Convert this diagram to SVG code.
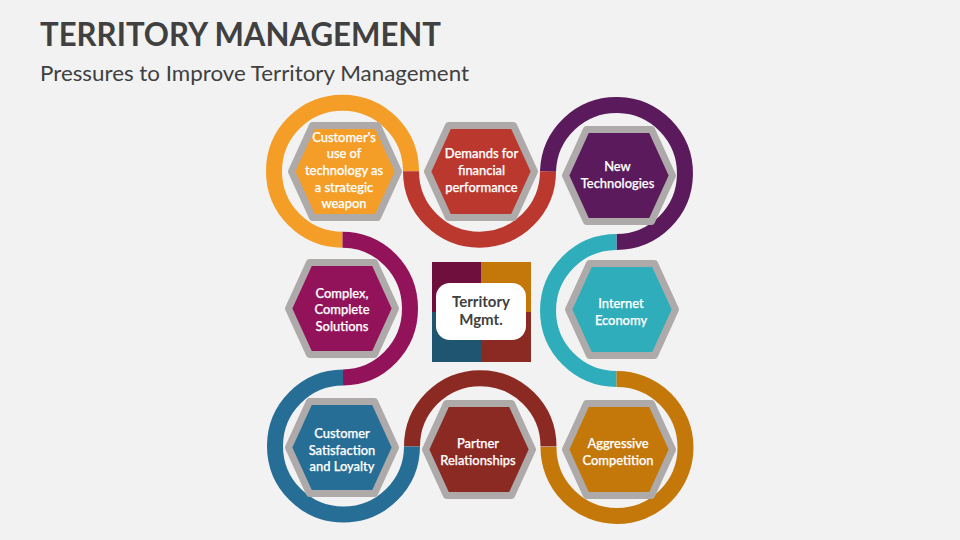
<svg xmlns="http://www.w3.org/2000/svg" width="960" height="540" viewBox="0 0 960 540">
<style>
.arc{fill:none;stroke-width:16;stroke-linecap:butt}
.hex{stroke:#aeaaaa;stroke-width:7;stroke-linejoin:round}
text{font-family:"Lato","Open Sans",sans-serif}
.t{fill:#fff;stroke:#fff;stroke-width:.25px;font-size:12.9px;font-weight:500;text-anchor:middle}
.title{fill:#404040;font-size:33px;font-weight:700}
.sub{fill:#404040;font-size:21px}
.c{fill:#404040;font-size:15px;font-weight:700;text-anchor:middle}
</style>
<defs>
<path id="h" d="M-53.5 0L-32.5-46H32.5L53.5 0L32.5 46H-32.5Z"/>
</defs>
<rect width="960" height="540" fill="#f2f2f2"/>
<g id="heading">
<text class="title" x="40" y="46" textLength="401" lengthAdjust="spacingAndGlyphs">TERRITORY MANAGEMENT</text>
<text class="sub" x="40" y="81" textLength="429" lengthAdjust="spacingAndGlyphs">Pressures to Improve Territory Management</text>
</g>
<g id="connectors">
<path class="arc" stroke="#f49d27" d="M342.500 239.700A68.500 68.500 0 1 1 411 171.200"/>
<path class="arc" stroke="#bb382e" d="M411 171.200A68.500 68.500 0 1 0 548 171.200"/>
<path class="arc" stroke="#5a1a5c" d="M548 171.200A68.500 68.500 0 1 1 616.500 242"/>
<path class="arc" stroke="#2fadba" d="M616.500 242A68.500 68.500 0 0 0 616.500 379"/>
<path class="arc" stroke="#c4780a" d="M616.500 379A68.500 68.500 0 1 1 548.500 447"/>
<path class="arc" stroke="#8b2a23" d="M548.500 446.500A68.250 68.250 0 1 0 412 446.500"/>
<path class="arc" stroke="#276e96" d="M412 446.500A68.500 68.500 0 1 1 343 377.500"/>
<path class="arc" stroke="#93135a" d="M343 377.500A67.500 68.900 0 0 0 410 308.600A67.500 68.900 0 0 0 342.500 239.700"/>
</g>
<g id="node-customers-use">
<use href="#h" class="hex" fill="#f49d27" x="345" y="171.500"/>
<text class="t" x="344" y="141.700">Customer's</text>
<text class="t" x="344" y="158.400">use of</text>
<text class="t" x="344" y="175">technology as</text>
<text class="t" x="344" y="191.700">a strategic</text>
<text class="t" x="344" y="208.400">weapon</text>
</g>
<g id="node-demands">
<use href="#h" class="hex" fill="#bb382e" x="481" y="171.500"/>
<text class="t" x="481.500" y="158.400">Demands for</text>
<text class="t" x="481.500" y="175">financial</text>
<text class="t" x="481.500" y="191.700">performance</text>
</g>
<g id="node-new-tech">
<use href="#h" class="hex" fill="#5a1a5c" x="619" y="175.500"/>
<text class="t" x="617.500" y="171">New</text>
<text class="t" x="617.500" y="187.700">Technologies</text>
</g>
<g id="node-internet">
<use href="#h" class="hex" fill="#2fadba" x="622" y="309.500"/>
<text class="t" x="621" y="308">Internet</text>
<text class="t" x="621" y="324.700">Economy</text>
</g>
<g id="node-aggressive">
<use href="#h" class="hex" fill="#c4780a" x="619" y="449.500"/>
<text class="t" x="618" y="448">Aggressive</text>
<text class="t" x="618" y="464.700">Competition</text>
</g>
<g id="node-partner">
<use href="#h" class="hex" fill="#8b2a23" x="479" y="449.500"/>
<text class="t" x="478" y="448">Partner</text>
<text class="t" x="478" y="464.700">Relationships</text>
</g>
<g id="node-satisfaction">
<use href="#h" class="hex" fill="#276e96" x="342" y="447.500"/>
<text class="t" x="342" y="438">Customer</text>
<text class="t" x="342" y="454.700">Satisfaction</text>
<text class="t" x="342" y="471.400">and Loyalty</text>
</g>
<g id="node-complex">
<use href="#h" class="hex" fill="#93135a" x="342" y="308.500"/>
<text class="t" x="342" y="297.700">Complex,</text>
<text class="t" x="342" y="314.300">Complete</text>
<text class="t" x="342" y="331">Solutions</text>
</g>
<g id="node-center">
<rect x="432" y="262" width="49" height="50" fill="#6f0f3e"/>
<rect x="481" y="262" width="50" height="50" fill="#c4780a"/>
<rect x="432" y="312" width="49" height="50" fill="#1f5570"/>
<rect x="481" y="312" width="50" height="50" fill="#8b2a23"/>
<rect x="436" y="283" width="90" height="57" rx="14" fill="#fff"/>
<text class="c" x="481" y="307">Territory</text>
<text class="c" x="481" y="325">Mgmt.</text>
</g>
</svg>
